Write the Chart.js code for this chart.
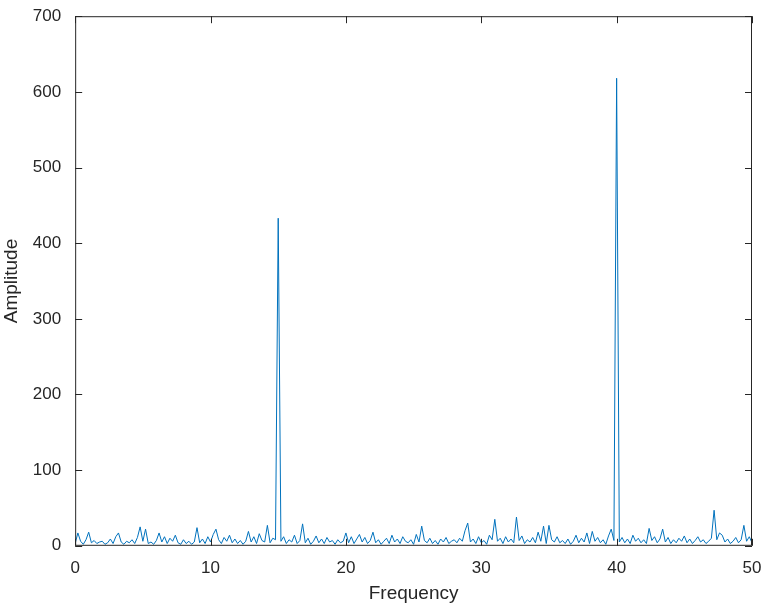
<!DOCTYPE html>
<html><head><script src="https://cdn.jsdelivr.net/npm/chart.js"></script>
<style>body{margin:0;background:#fff}#w{width:766px;height:612px}</style></head>
<body><div id="w"><canvas id="c"></canvas></div>
<script>
const freqStep = 0.2;
const amplitude = [
3,17,6,2,8,18,4,7,3,5,
6,2,4,9,3,12,17,5,2,6,
4,8,3,11,25,6,22,3,5,2,
7,17,5,12,3,10,6,14,4,2,
8,3,6,2,5,24,4,9,3,12,
5,15,22,8,3,11,6,14,4,9,
3,7,2,6,19,5,12,3,16,7,
5,27,4,10,8,433,6,12,3,8,
5,14,3,7,29,4,10,2,6,13,
4,9,3,11,5,7,2,8,4,6,
17,4,12,3,9,15,5,11,3,7,
18,4,8,2,6,10,3,14,5,9,
3,12,6,4,8,2,15,5,26,7,
4,10,3,7,2,9,5,11,3,6,
8,4,10,6,20,30,5,9,3,12,
4,7,2,14,8,35,6,10,3,12,
5,9,4,38,7,13,3,8,5,11,
4,18,6,26,3,27,8,5,12,4,
7,3,9,2,6,14,4,10,5,17,
3,19,6,11,4,8,2,13,22,7,
618,5,11,4,9,3,14,6,10,4,
8,3,23,7,12,4,9,22,5,11,
3,8,4,10,6,13,4,9,3,7,
12,5,8,3,6,10,47,8,17,14,
5,9,3,6,11,4,8,27,6,12,
4];
const xTicks = [0,10,20,30,40,50];
const yTicks = [0,100,200,300,400,500,600,700];
const pts = amplitude.map((v,i)=>({x:+(i*freqStep).toFixed(2), y:v}));
const box = {id:'box',afterDraw(ch){const a=ch.chartArea,c=ch.ctx,x=ch.scales.x,y=ch.scales.y;
 c.save();c.strokeStyle='#262626';c.lineWidth=1;c.strokeRect(a.left+0.5,a.top+0.5,a.right-a.left-1,a.bottom-a.top-1);
 c.beginPath();xTicks.forEach(t=>{const p=Math.round(x.getPixelForValue(t))+0.5;c.moveTo(p,a.bottom);c.lineTo(p,a.bottom-7);c.moveTo(p,a.top);c.lineTo(p,a.top+7);});
 yTicks.forEach(t=>{const p=Math.round(y.getPixelForValue(t))+0.5;c.moveTo(a.left,p);c.lineTo(a.left+7,p);c.moveTo(a.right,p);c.lineTo(a.right-7,p);});
 c.stroke();c.restore();}};
const font={family:'Liberation Sans, Arial',size:17};
new Chart(document.getElementById('c'),{type:'line',
data:{datasets:[{data:pts,borderColor:'#0072BD',borderWidth:1,pointRadius:0,tension:0}]},
options:{animation:false,responsive:true,maintainAspectRatio:false,
 layout:{padding:{top:-6,right:14,left:0,bottom:0}},
 plugins:{legend:{display:false},tooltip:{enabled:false}},
 scales:{
  x:{type:'linear',min:0,max:50,afterBuildTicks:s=>{s.ticks=xTicks.map(v=>({value:v}))},
     grid:{display:false},border:{display:false},
     ticks:{color:'#262626',font:{...font,size:17},maxRotation:0,padding:4},
     title:{display:true,text:'Frequency',color:'#262626',font:{...font,size:19},padding:{top:0,bottom:7}}},
  y:{min:0,max:700,afterBuildTicks:s=>{s.ticks=yTicks.map(v=>({value:v}))},
     grid:{display:false},border:{display:false},
     ticks:{color:'#262626',font:{...font,size:17},padding:6},
     title:{display:true,text:'Amplitude',color:'#262626',font:{...font,size:19},padding:{top:0,bottom:4}}}
 }},plugins:[box]});
</script></body></html>
